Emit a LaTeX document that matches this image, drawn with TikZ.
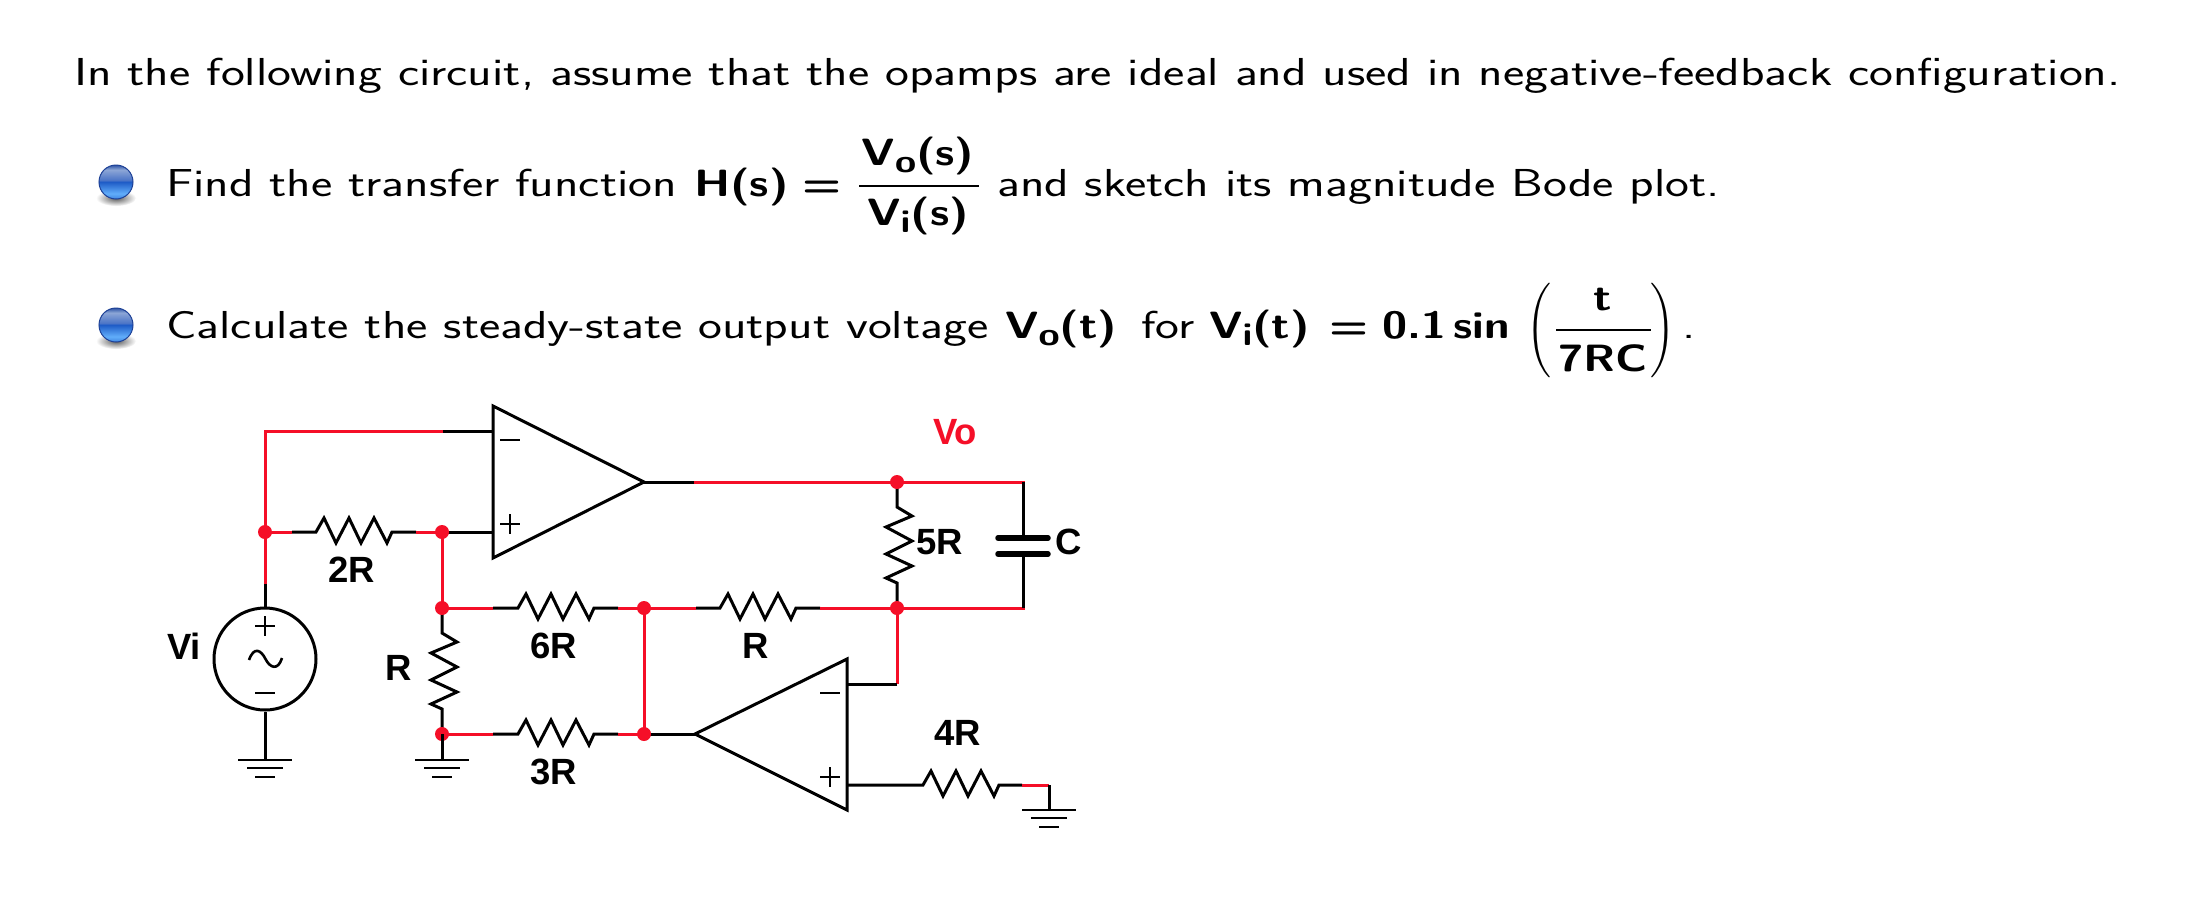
\documentclass[tikz,border=0pt]{standalone}
\usepackage{fontspec}
\usepackage{graphicx}
\newfontfamily\labelfont{Liberation Sans}
\newfontfamily\bodyf[FakeStretch=1.30]{Latin Modern Sans}
\newfontfamily\boldf[FakeStretch=1.2]{Latin Modern Sans}
\usetikzlibrary{backgrounds}
\definecolor{wirered}{RGB}{245,15,40}
\definecolor{ballrim}{RGB}{30,65,150}
\pgfdeclareverticalshading{ballshade}{100bp}{
  rgb(0bp)=(0.38,0.68,0.98);
  rgb(25bp)=(0.25,0.52,0.88);
  rgb(33bp)=(0.38,0.68,0.98);
  rgb(50bp)=(0.12,0.36,0.78);
  rgb(53bp)=(0.30,0.46,0.78);
  rgb(68bp)=(0.55,0.65,0.84);
  rgb(75bp)=(0.18,0.33,0.65);
  rgb(100bp)=(0.18,0.33,0.65)}
\tikzset{
  x=1pt,y=-1pt,
  wire/.style={line width=3pt,draw=black,line join=miter},
  redwire/.style={line width=3pt,draw=wirered,line join=miter},
  sign/.style={line width=2.6pt,draw=black},
  plate/.style={line width=5.5pt,draw=black,line cap=round},
  groundline/.style={line width=2.8pt,draw=black},
  junction/.style={circle,fill=wirered,minimum size=14pt,inner sep=0pt,outer sep=0pt},
  lbl/.style={font=\labelfont\bfseries\fontsize{36.5}{42}\selectfont,inner sep=0pt,text=black},
  body/.style={font=\bodyf\fontsize{39}{46}\selectfont,inner sep=0pt,anchor=base west,text=black},
  boldmath/.style={font=\boldf\bfseries\fontsize{38}{46}\selectfont,inner sep=0pt,anchor=base west,text=black},
  boldmid/.style={font=\boldf\bfseries\fontsize{38}{46}\selectfont,inner sep=0pt,anchor=base,text=black},
  zigh/.style={insert path={-- ++(8,-14) -- ++(12,25) -- ++(13,-25) -- ++(12,25) -- ++(13,-25) -- ++(13,25) -- ++(5,-11)}},
  zigv/.style={insert path={-- ++(15,9) -- ++(-26,11) -- ++(26,14) -- ++(-26,13) -- ++(26,12) -- ++(-26,12) -- ++(11,5)}},
  ground/.pic={\draw[groundline] (-27,0) -- (27,0) (-18,8) -- (18,8) (-10,17) -- (10,17);},
  plusmark/.pic={\draw[sign] (-10,0) -- (10,0) (0,-10) -- (0,10);},
  minusmark/.pic={\draw[sign] (-10,0) -- (10,0);},
  ball/.pic={
    \shade[inner color=black!65,outer color=white] (0,16) ellipse (20 and 8);
    \shade[shading=ballshade] (0,0) circle (17);
    \draw[line width=1pt,draw=ballrim] (0,0) circle (17);
  },
}
\newcommand{\lowsub}[1]{\raisebox{-7pt}{\fontsize{32}{34}\selectfont #1}}
\begin{document}
\begin{tikzpicture}
\useasboundingbox (0,0) rectangle (2206,916);
\begin{scope}[on background layer]
  \fill[white] (0,0) rectangle (2206,916);
\end{scope}
% text
\node[body] (line1) at (74,85) {In the following circuit, assume that the opamps are ideal and used in negative-feedback configuration.};
\pic at (116,182) {ball};
\pic at (116,325) {ball};
\node[body] (q1a) at (166,196) {Find the transfer function};
\node[boldmath] (q1h) at (694,196) {H(s)};
\node[boldmath] (q1eq) at (802,196) {=};
\node[boldmid] (q1num) at (918,165) {V\lowsub{o}(s)};
\coordinate (r1a) at (859,186); \coordinate (r1b) at (979,186);
\draw[line width=1.8pt] (r1a) -- (r1b);
\node[boldmid] (q1den) at (918,225) {V\lowsub{i}(s)};
\node[body] (q1b) at (997,196) {and sketch its magnitude Bode plot.};
\node[body] (q2a) at (166,338) {Calculate the steady-state output voltage};
\node[boldmath] (q2v) at (1005,338) {V\lowsub{o}(t)};
\node[body] (q2for) at (1141,338) {for};
\node[boldmath] (q2vi) at (1209,338) {V\lowsub{i}(t)};
\node[boldmath] (q2eq) at (1329,338) {=};
\node[boldmath] (q2num) at (1382,338) {0.1};
\node[boldmath] (q2sin) at (1453,338) {sin};
\node[inner sep=0pt] (q2lp) at (1539,330) {\scalebox{3.15}{$\Bigg($}};
\node[boldmid] (q2t) at (1603,310) {t};
\coordinate (r2a) at (1556,330); \coordinate (r2b) at (1651,330);
\draw[line width=1.8pt] (r2a) -- (r2b);
\node[boldmid] (q2d) at (1603,371) {7RC};
\node[inner sep=0pt] (q2rp) at (1663,330) {\scalebox{3.15}{$\Bigg)$}};
\node[body] (q2dot) at (1682,338) {.};

% junctions
\node[junction] (na) at (265,532) {};
\node[junction] (nb) at (442,532) {};
\node[junction] (nc) at (442,608) {};
\node[junction] (nd) at (644,608) {};
\node[junction] (ne) at (897,482) {};
\node[junction] (nf) at (897,608) {};
\node[junction] (ng) at (644,734) {};
\node[junction] (nh) at (442,734) {};

% source, opamps
\node[circle,draw=black,line width=3pt,minimum size=102pt,inner sep=0pt] (src) at (265,659) {};
\pic at (265,626) {plusmark};
\pic at (265,693) {minusmark};
\draw[line width=2.6pt] (249,660) .. controls (254,646) and (261,650) .. (265.5,659) .. controls (270,668) and (278,671) .. (282,658);

% op amp 1
\coordinate (oa1t) at (493,406); \coordinate (oa1b) at (493,558); \coordinate (oa1o) at (644,482);
\coordinate (oa1m) at (493,431); \coordinate (oa1p) at (493,532);
\draw[wire] (oa1t) -- (oa1b) -- (oa1o) -- cycle;
\pic at (510,440) {minusmark};
\pic at (510,524) {plusmark};

% op amp 2
\coordinate (oa2t) at (847,659); \coordinate (oa2b) at (847,810); \coordinate (oa2o) at (695,734);
\coordinate (oa2m) at (847,684); \coordinate (oa2p) at (847,785);
\draw[wire] (oa2t) -- (oa2b) -- (oa2o) -- cycle;
\pic at (830,693) {minusmark};
\pic at (830,777) {plusmark};

% wires under the junctions
\begin{scope}[on background layer]
  % top feedback
  \coordinate (tl) at (265,431); \coordinate (tm) at (443,431);
  \draw[wire] (tm) -- (oa1m);
  \draw[redwire] (tm) -- (tl) -- (na.center);
  \coordinate (as) at (265,584);
  \draw[redwire] (na.center) -- (as);
  \draw[wire] (as) -- (src.north);
  % 2R
  \coordinate (r2m1) at (292,532); \coordinate (r2m2) at (416,532);
  \draw[redwire] (na.center) -- (r2m1);
  \draw[wire] (r2m1) -- (316,532) [zigh] -- (r2m2);
  \draw[redwire] (r2m2) -- (nb.center);
  \draw[wire] (nb.center) -- (oa1p);
  \draw[redwire] (nb.center) -- (nc.center);
  % 6R
  \coordinate (r6a) at (493,608); \coordinate (r6b) at (618,608);
  \draw[redwire] (nc.center) -- (r6a);
  \draw[wire] (r6a) -- (518,608) [zigh] -- (r6b);
  \draw[redwire] (r6b) -- (nd.center);
  % R
  \coordinate (rra) at (696,608); \coordinate (rrb) at (820,608);
  \draw[redwire] (nd.center) -- (rra);
  \draw[wire] (rra) -- (720,608) [zigh] -- (rrb);
  \draw[redwire] (rrb) -- (nf.center);
  % 3R
  \coordinate (r3a) at (493,734); \coordinate (r3b) at (618,734);
  \draw[redwire] (nh.center) -- (r3a);
  \draw[wire] (r3a) -- (518,734) [zigh] -- (r3b);
  \draw[redwire] (r3b) -- (ng.center);
  \draw[redwire] (nd.center) -- (ng.center);
  \draw[wire] (ng.center) -- (oa2o);
  % R to ground
  \draw[wire] (nc.center) -- (442,633) [zigv] -- (nh.center);
  % output
  \coordinate (oo) at (694,482); \coordinate (ot) at (1023,482); \coordinate (ob) at (1023,608);
  \draw[wire] (oa1o) -- (oo);
  \draw[redwire] (oo) -- (ne.center);
  \draw[wire] (ne.center) -- (897,507) [zigv] -- (nf.center);
  \draw[redwire,line cap=rect] (ne.center) -- (ot);
  \draw[redwire,line cap=rect] (nf.center) -- (ob);
  \draw[redwire] (nf.center) -- (897,684) coordinate (fb);
  \draw[wire] (fb) -- (oa2m);
  % capacitor
  \coordinate (capa) at (1023,538); \coordinate (capb) at (1023,554);
  \draw[wire] (ot) -- (capa);
  \draw[wire] (capb) -- (ob);
  % 4R
  \coordinate (r4a) at (1022,785); \coordinate (r4b) at (1049,785);
  \draw[wire] (oa2p) -- (923,785) [zigh] -- (r4a);
  \draw[redwire] (r4a) -- (r4b);
\end{scope}
\draw[plate] (998,538) -- (1048,538);
\draw[plate] (998,554) -- (1048,554);

% grounds
\coordinate (g1) at (265,760); \coordinate (g2) at (442,760); \coordinate (g3) at (1049,810);
\draw[wire] (src.south) -- (g1);
\draw[wire] (nh.center) -- (g2);
\draw[wire] (r4b) -- (g3);
\pic at (g1) {ground};
\pic at (g2) {ground};
\pic at (g3) {ground};

% labels
\node[lbl] (l2r) at (352,570) {2R};
\node[lbl] (l6r) at (554,646) {6R};
\node[lbl] (l3r) at (554,772) {3R};
\node[lbl] (lr1) at (399,668) {R};
\node[lbl] (lvi) at (184,646) {Vi};
\node[lbl] (lr2) at (756,646) {R};
\node[lbl] (l5r) at (940,542) {5R};
\node[lbl] (lc) at (1069,542) {C};
\node[lbl] (l4r) at (958,733) {4R};
\node[lbl,text=wirered] (lvo) at (955,432) {Vo};
\end{tikzpicture}
\end{document}
